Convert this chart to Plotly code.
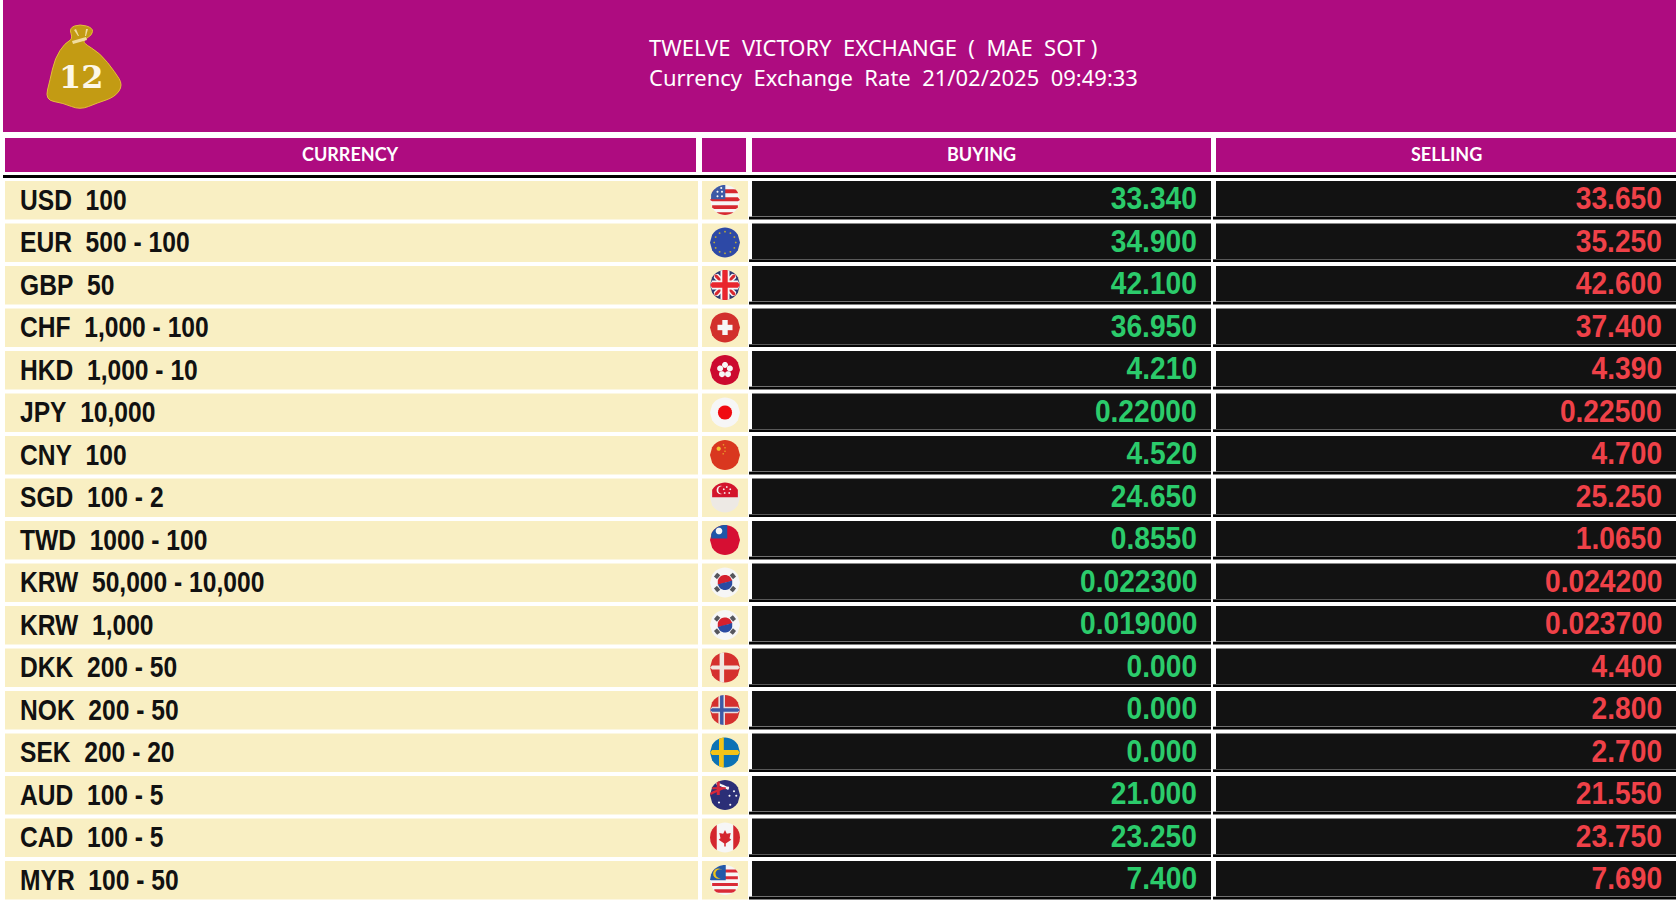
import math
import plotly.graph_objects as go

# Table content
CURRENCIES = ['USD  100', 'EUR  500 - 100', 'GBP  50', 'CHF  1,000 - 100', 'HKD  1,000 - 10',
              'JPY  10,000', 'CNY  100', 'SGD  100 - 2', 'TWD  1000 - 100', 'KRW  50,000 - 10,000',
              'KRW  1,000', 'DKK  200 - 50', 'NOK  200 - 50', 'SEK  200 - 20', 'AUD  100 - 5',
              'CAD  100 - 5', 'MYR  100 - 50']
BUYING = ['33.340', '34.900', '42.100', '36.950', '4.210', '0.22000', '4.520', '24.650', '0.8550',
          '0.022300', '0.019000', '0.000', '0.000', '0.000', '21.000', '23.250', '7.400']
SELLING = ['33.650', '35.250', '42.600', '37.400', '4.390', '0.22500', '4.700', '25.250', '1.0650',
           '0.024200', '0.023700', '4.400', '2.800', '2.700', '21.550', '23.750', '7.690']
HEADERS = ['CURRENCY', '', 'BUYING', 'SELLING']
TITLE_LINES = ['TWELVE  VICTORY  EXCHANGE  (  MAE  SOT )', 'Currency  Exchange  Rate  21/02/2025  09:49:33']

WIDTH, HEIGHT = 1676, 901
PURPLE = '#AE0C80'
BEIGE = '#F9EFC3'
PANEL = '#121212'
GREEN = '#2BCB6B'
RED = '#EF4148'

# column edges in page pixels
HEAD_COLS = [(5, 696), (702, 746), (752, 1211), (1216, 1676)]
BEIGE_COLS = [(5, 698), (702, 748)]
ROW_TOP = 181
ROW_STEP = 42.5
ROW_H = 38.5

# No narrow font is installed, so the table text gets squeezed after the plot is drawn
SQUEEZE_JS = """
document.body.style.margin='0';
document.documentElement.style.overflow='hidden';
document.querySelectorAll('.annotation-text').forEach(function (t) {
    var family = t.style.fontFamily || '';
    if (family.indexOf('Liberation Sans') < 0) { return; }
    var factor = parseInt(t.style.fontSize) === 32 ? 0.88 : 0.82;
    t.setAttribute('textLength', t.getComputedTextLength() * factor);
    t.setAttribute('lengthAdjust', 'spacingAndGlyphs');
});
"""


def nbsp(text):
    return text.replace(' ', '\u00a0')


def rect(x0, x1, y0, y1, color):
    return dict(type='rect', xref='x', yref='y', x0=x0, x1=x1, y0=y0, y1=y1,
                fillcolor=color, line_width=0, layer='below')


def path(points, color):
    d = 'M' + 'L'.join(f'{x:.2f},{y:.2f}' for x, y in points) + 'Z'
    return dict(type='path', xref='x', yref='y', path=d, fillcolor=color, line_width=0, layer='below')


def smooth_path(points, color, edge):
    # closed curve through the midpoints of the outline
    mids = [((points[i][0] + points[(i + 1) % len(points)][0]) / 2,
             (points[i][1] + points[(i + 1) % len(points)][1]) / 2) for i in range(len(points))]
    d = f'M{mids[-1][0]:.2f},{mids[-1][1]:.2f}'
    for p, m in zip(points, mids):
        d += f'Q{p[0]:.2f},{p[1]:.2f} {m[0]:.2f},{m[1]:.2f}'
    return dict(type='path', xref='x', yref='y', path=d + 'Z', fillcolor=color,
                line=dict(color=edge, width=1), layer='below')


def disc_rect(x0, x1, y0, y1, angle=0, scale=1.0):
    # rectangle cut to the unit disc, optionally turned by angle degrees and shrunk
    x0, x1 = max(x0, -1), min(x1, 1)
    steps = 14
    top, bot = [], []
    for i in range(steps + 1):
        x = x0 + (x1 - x0) * i / steps
        h = math.sqrt(max(1 - x * x, 0))
        a, b = max(y0, -h), min(y1, h)
        if a <= b:
            top.append((x, a))
            bot.append((x, b))
    pts = top + bot[::-1]
    t = math.radians(angle)
    return [(scale * (x * math.cos(t) - y * math.sin(t)), scale * (x * math.sin(t) + y * math.cos(t)))
            for x, y in pts]


def dot(x, y, r):
    return [(x + r * math.cos(k * math.pi / 10), y + r * math.sin(k * math.pi / 10)) for k in range(20)]


def ring(r, n, size):
    return [dot(r * math.cos(2 * math.pi * k / n - math.pi / 2), r * math.sin(2 * math.pi * k / n - math.pi / 2), size)
            for k in range(n)]


WHITE = '#F6F6F6'
NAVY = '#2E3A72'
FLAG_RED = '#D7282F'

# each flag is a list of (points, colour) in unit-disc coordinates
FLAGS = {
    'USD': [(disc_rect(-1, 1, -1, 1), WHITE)]
    + [(disc_rect(-1, 1, a, b), FLAG_RED) for a, b in [(-.72, -.45), (-.18, .08), (.35, .6), (.82, 1)]]
    + [(disc_rect(-1, 0.02, -1, -.05), '#3D5AA6')]
    + [(dot(x, y, .07), WHITE) for x, y in [(-.5, -.55), (-.2, -.55), (-.5, -.25), (-.2, -.25), (-.25, -.8)]],
    'EUR': [(disc_rect(-1, 1, -1, 1), '#2D49A6')] + [(d, '#B9A93A') for d in ring(.72, 12, .06)],
    'GBP': [(disc_rect(-1, 1, -1, 1), NAVY),
            (disc_rect(-1, 1, -.2, .2, 45), WHITE), (disc_rect(-1, 1, -.2, .2, -45), WHITE),
            (disc_rect(-1, 1, -.1, .1, 45), FLAG_RED), (disc_rect(-1, 1, -.1, .1, -45), FLAG_RED),
            (disc_rect(-1, 1, -.3, .3), WHITE), (disc_rect(-.3, .3, -1, 1), WHITE),
            (disc_rect(-1, 1, -.18, .18), '#E9252E'), (disc_rect(-.18, .18, -1, 1), '#E9252E')],
    'CHF': [(disc_rect(-1, 1, -1, 1), '#D2302C'),
            (disc_rect(-.5, .5, -.18, .18), WHITE), (disc_rect(-.18, .18, -.5, .5), WHITE)],
    'HKD': [(disc_rect(-1, 1, -1, 1), '#CC0A2F')] + [(d, WHITE) for d in ring(.34, 5, .2)],
    'JPY': [(disc_rect(-1, 1, -1, 1), WHITE), (dot(0, 0, .47), '#F00A10')],
    'CNY': [(disc_rect(-1, 1, -1, 1), '#D9371F'), (dot(-.42, -.42, .14), '#F2C230')]
    + [(dot(x, y, .05), '#E8A52B') for x, y in [(-.1, -.68), (0, -.48), (0, -.25), (-.12, -.08)]],
    'SGD': [(disc_rect(-1, 1, -1, 1), '#EDE9E4'), (disc_rect(-1, 1, -1, -.02), '#D3142B'),
            (dot(-.28, -.5, .28), WHITE), (dot(-.18, -.5, .27), '#D3142B')]
    + [(dot(x, y, .06), WHITE) for x, y in [(.12, -.7), (.35, -.55), (.28, -.3), (-.02, -.3), (-.08, -.55)]],
    'TWD': [(disc_rect(-1, 1, -1, 1), '#D60F33'), (disc_rect(-1, .15, -1, -.1), '#1F56A8'),
            (dot(-.4, -.6, .22), WHITE)],
    'KRW': [(disc_rect(-1, 1, -1, 1), WHITE), (disc_rect(-1, 1, -1, .05, -15, .5), '#D5202E'),
            (disc_rect(-1, 1, 0, 1, -15, .5), '#2A4BA2')]
    + [(disc_rect(-.17, .17, -.82, -.55, a), '#55565C') for a in (-50, 50, 130, 230)],
    'DKK': [(disc_rect(-1, 1, -1, 1), '#D5302E'), (disc_rect(-1, 1, -.14, .14), '#F1E6E0'),
            (disc_rect(-.36, -.06, -1, 1), '#F1E6E0')],
    'NOK': [(disc_rect(-1, 1, -1, 1), '#D5302E'), (disc_rect(-1, 1, -.22, .22), '#E7DCDC'),
            (disc_rect(-.44, 0, -1, 1), '#E7DCDC'), (disc_rect(-1, 1, -.11, .11), '#3F5AA5'),
            (disc_rect(-.33, -.1, -1, 1), '#3F5AA5')],
    'SEK': [(disc_rect(-1, 1, -1, 1), '#0B72B5'), (disc_rect(-1, 1, -.17, .17), '#F2C318'),
            (disc_rect(-.4, -.08, -1, 1), '#F2C318')],
    'AUD': [(disc_rect(-1, 1, -1, 1), '#2B2F77'),
            (disc_rect(-1, .05, -.56, -.4, 25), WHITE), (disc_rect(-1, .05, -.56, -.4, -25), '#D7283A'),
            (disc_rect(-.55, -.35, -1, 0), '#D7283A'), (disc_rect(-1, .05, -.52, -.38), '#D7283A')]
    + [(dot(x, y, .07), WHITE) for x, y in [(.2, -.5), (.6, -.25), (.75, .05), (.3, .05), (-.4, .5), (.35, .65)]],
    'CAD': [(disc_rect(-1, 1, -1, 1), WHITE), (disc_rect(-1, -.55, -1, 1), '#D4272E'),
            (disc_rect(.55, 1, -1, 1), '#D4272E'),
            ([(0, -.5), (.12, -.25), (.38, -.3), (.3, .05), (.42, .15), (.05, .4), (.05, .6), (-.05, .6),
              (-.05, .4), (-.42, .15), (-.3, .05), (-.38, -.3), (-.12, -.25)], '#D4272E')],
    'MYR': [(disc_rect(-1, 1, -1, 1), WHITE)]
    + [(disc_rect(-1, 1, a, b), '#DA2A36') for a, b in [(-.7, -.5), (-.25, -.05), (.2, .4), (.62, .85)]]
    + [(disc_rect(-1, .05, -1, .02), '#2459A8'), (dot(-.45, -.42, .34), '#F0C419'), (dot(-.33, -.42, .3), '#2459A8')],
}

shapes = []
annotations = []


def add_text(x, y, text, size, color, family, anchor='center', bold=False):
    annotations.append(dict(x=x, y=y, xref='x', yref='y', text=text, showarrow=False, xanchor=anchor,
                            align=anchor, yanchor='middle',
                            font=dict(size=size, color=color, family=family,
                                      weight='bold' if bold else 'normal')))


# banner
shapes.append(rect(3, WIDTH, 0, 132, PURPLE))
add_text(647, 47, nbsp(TITLE_LINES[0]), 22, 'white', 'Noto Sans', 'left')
add_text(647, 77, nbsp(TITLE_LINES[1]), 22, 'white', 'Noto Sans', 'left')

# logo bag
bag = [(80, 24), (93, 28), (92, 35), (85, 39), (83, 43), (100, 53), (115, 72), (123, 85), (115, 97),
       (97, 103), (80, 110), (63, 103), (45, 100), (50, 80), (55, 58), (65, 43), (73, 39), (69, 28)]
shapes.append(smooth_path(bag, '#C39B13', '#E6BC3C'))
shapes.append(path([(72, 41), (86, 37), (87, 40), (73, 44)], '#F0DDA0'))
shapes.append(path([(76, 29), (79, 36), (78, 36), (74, 30)], '#F0DDA0'))
shapes.append(path([(88, 29), (86, 36), (85, 36), (86, 29)], '#F0DDA0'))
add_text(81.5, 77, '12', 32, '#FDF8E8', 'DejaVu Serif', bold=True)

# header row
for (x0, x1), label in zip(HEAD_COLS, HEADERS):
    shapes.append(rect(x0, x1, 138, 172, PURPLE))
    if label:
        add_text((x0 + x1) / 2, 154, label, 18, 'white', 'Lato', bold=True)
shapes.append(rect(3, WIDTH, 175, 178, 'black'))

# table rows
for i, label in enumerate(CURRENCIES):
    top = ROW_TOP + i * ROW_STEP
    bottom = top + ROW_H
    mid = top + 19
    for x0, x1 in BEIGE_COLS:
        shapes.append(rect(x0, x1, top, bottom, BEIGE))
    for x0, x1 in HEAD_COLS[2:]:
        shapes.append(rect(x0, x1, top, bottom - 3, PANEL))
        shapes.append(rect(x0 - 3, x1, bottom - 3, bottom - 2.5, '#5A5A5A'))
        shapes.append(rect(x0 - 3, x1, bottom - 2.5, bottom, '#050505'))
    add_text(18, mid - 1, nbsp(label), 30, '#111111', 'Liberation Sans', 'left', bold=True)
    add_text(1199, mid - 2, BUYING[i], 32, GREEN, 'Liberation Sans', 'right', bold=True)
    add_text(1664, mid - 2, SELLING[i], 32, RED, 'Liberation Sans', 'right', bold=True)
    code = label.split()[0]
    for pts, color in FLAGS[code]:
        shapes.append(path([(725 + 15 * x, mid + 15 * y) for x, y in pts], color))

fig = go.Figure()
fig.update_xaxes(range=[0, WIDTH], visible=False, fixedrange=True)
fig.update_yaxes(range=[HEIGHT, 0], visible=False, fixedrange=True)
fig.update_layout(width=WIDTH, height=HEIGHT, margin=dict(l=0, r=0, t=0, b=0), plot_bgcolor='white',
                  paper_bgcolor='white', showlegend=False, shapes=shapes, annotations=annotations)
fig.write_html('out.html', config={'displayModeBar': False}, post_script=SQUEEZE_JS)
